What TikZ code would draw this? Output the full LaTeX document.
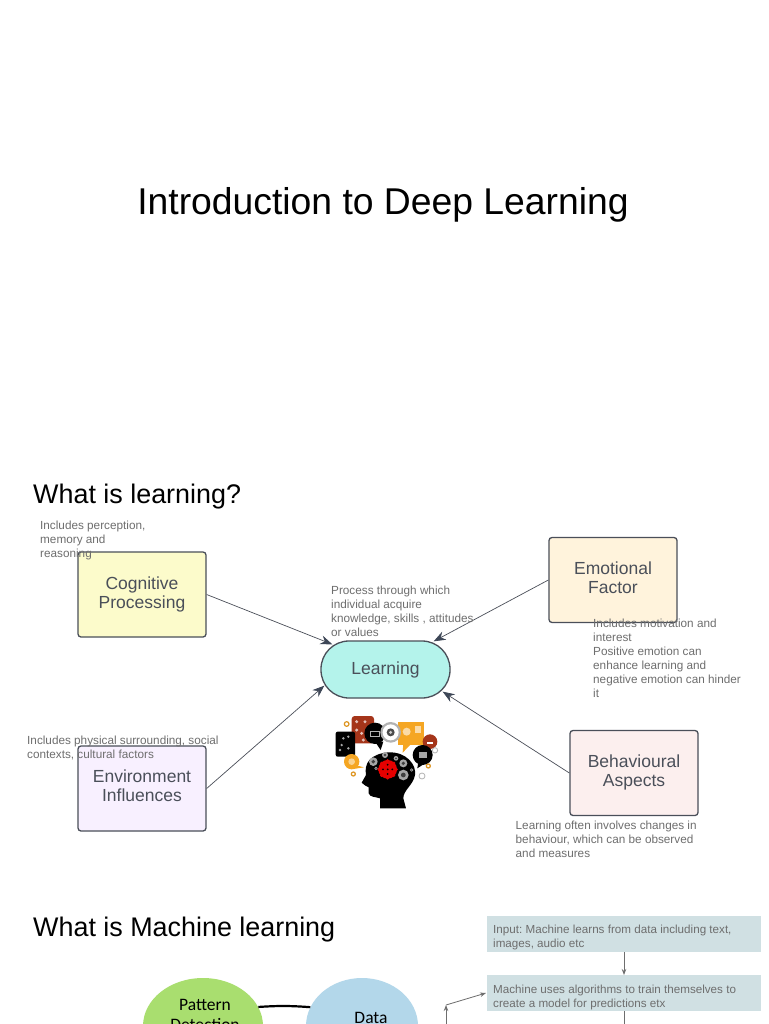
\documentclass[tikz,border=0pt]{standalone}
\usepackage{fontspec}
\setmainfont{Liberation Sans}
\newfontfamily\blobfont{Carlito}
\usetikzlibrary{arrows.meta,shapes.geometric}
\definecolor{ink}{HTML}{4A4F59}
\definecolor{notegray}{HTML}{6E6E6E}
\definecolor{tip}{HTML}{3D4656}
\definecolor{boxteal}{HTML}{D0E0E3}
\definecolor{ora}{HTML}{F5A623}
\definecolor{brn}{HTML}{A5351A}
\definecolor{cogfill}{HTML}{FCFBCB}
\definecolor{emofill}{HTML}{FFF3DC}
\definecolor{envfill}{HTML}{F8F0FF}
\definecolor{behfill}{HTML}{FCEFEE}
\definecolor{learnfill}{HTML}{B4F3EB}
\definecolor{patfill}{HTML}{A9DE6F}
\definecolor{datafill}{HTML}{B3D7EA}
\tikzset{
  flow/.style={rounded corners=3pt,draw=ink,line width=1.3pt,minimum width=128pt,minimum height=85pt,inner sep=0pt},
  flowtext/.style={align=center,inner sep=0pt,text=ink,font=\fontsize{17.5}{19}\selectfont},
  note/.style={anchor=north west,align=left,inner sep=0pt,text=notegray,font=\frenchspacing\fontsize{11.75}{14}\selectfont},
  heading/.style={anchor=west,inner sep=0pt,text=black,font=\fontsize{26.9}{32}\selectfont},
  link/.style={draw=ink,line width=0.7pt,-{Stealth[length=12pt,width=9pt,color=tip]}},
  tealbox/.style={anchor=north west,fill=boxteal,minimum width=274pt,minimum height=36pt,inner sep=0pt},
  tealtext/.style={anchor=north west,inner sep=0pt,align=left,text=notegray,font=\frenchspacing\fontsize{11.65}{14}\selectfont},
  thin arrow/.style={draw=notegray,line width=0.8pt,-{Stealth[length=6pt,width=4.5pt]}},
  blob/.style={inner sep=0pt,align=center,text=black,font=\blobfont\fontsize{17.5}{20}\selectfont}
}
\begin{document}
\begin{tikzpicture}[x=1pt,y=-1pt]
\useasboundingbox (0,0) rectangle (768,1024);
\clip (0,0) rectangle (768,1024);
\fill[white] (0,0) rectangle (768,1024);
\node[anchor=center,inner sep=0pt,font=\fontsize{37.3}{42}\selectfont] (title) at (383,205) {Introduction to Deep Learning};
\node[heading] (h1) at (33,496.5) {What is learning?};
\node[heading] (h2) at (33,929.5) {What is Machine learning};

% Learning diagram
\node[flow,fill=cogfill,label={[flowtext]center:Cognitive\\Processing}] (cog) at (142,594.5) {};
\node[flow,fill=emofill,label={[flowtext,yshift=2pt]center:Emotional\\Factor}] (emo) at (613,580) {};
\node[flow,fill=envfill,label={[flowtext,yshift=3pt]center:Environment\\Influences}] (env) at (142,788.5) {};
\node[flow,fill=behfill,label={[flowtext,yshift=1pt]center:Behavioural\\Aspects}] (beh) at (634,773) {};
\node[flow,fill=learnfill,rounded corners=28pt,minimum height=57pt,minimum width=129pt,label={[flowtext]center:Learning}] (learn) at (385.5,669.5) {};

\draw[link] (cog.east) -- ([xshift=12pt,yshift=-4pt]learn.north west);
\draw[link] (emo.west) -- ([xshift=-17pt,yshift=-1pt]learn.north east);
\draw[link] (beh.west) -- ([xshift=-8pt,yshift=7pt]learn.south east);
\draw[link] (env.east) -- ([xshift=4pt,yshift=13pt]learn.south west);

\node[note] (n1) at (40,521) {Includes perception,\\memory and\\reasoning};
\node[note] (n2) at (331,586) {Process through which\\individual acquire\\knowledge, skills , attitudes\\or values};
\node[note] (n3) at (593,619) {Includes motivation and\\interest\\Positive emotion can\\enhance learning and\\negative emotion can hinder\\it};
\node[note] (n4) at (27,736) {Includes physical surrounding, social\\contexts, cultural factors};
\node[note] (n5) at (515.5,821) {Learning often involves changes in\\behaviour, which can be observed\\and measures};

% Head illustration
\begin{scope}[shift={(320,700)},x=0.3333pt,y=-0.3333pt]
  \fill[ora] (235,65) rectangle (312,135);
  \fill[ora] (250,130) -- (275,130) -- (248,158) -- cycle;
  \fill[brn,rounded corners=3pt] (95,48) rectangle (162,130);
  \fill[black,rounded corners=2pt] (47,95) rectangle (105,170);
  \fill[black] (165,100) circle [radius=32];
  \fill[black] (165,125) -- (190,125) -- (182,150) -- cycle;
  \fill[gray!60] (212,97) circle [radius=31];
  \fill[white] (212,97) circle [radius=24];
  \fill[black!70] (212,97) circle [radius=12];
  \fill[gray!40] (212,97) circle [radius=5];
  \fill[brn] (330,125) circle [radius=22];
  \fill[white] (320,125) rectangle (340,133);
  \fill[black] (308,165) circle [radius=30];
  \fill[black] (295,185) -- (315,190) -- (292,205) -- cycle;
  \fill[gray!70] (298,157) rectangle (320,174);
  \fill[ora] (95,185) circle [radius=23];
  \fill[ora] (105,195) -- (132,202) -- (100,207) -- cycle;
  \fill[ora!50] (95,185) circle [radius=10];
  \draw[ora!90!black,line width=1.2pt] (80,72) circle [radius=7];
  \draw[ora!90!black,line width=1.2pt] (100,222) circle [radius=6];
  \draw[ora!90!black,line width=1.2pt] (325,198) circle [radius=6];
  \draw[gray!60,line width=0.8pt] (345,151) circle [radius=8];
  \draw[gray!60,line width=0.8pt] (306,228) circle [radius=9];
  \foreach \p/\q in {110/65,135/65,125/100,110/90,130/120}{\fill[brn!30] (\p,\q) circle [radius=5];}
  \foreach \p/\q in {70/115,85/145,60/150,85/110,65/135}{\fill[gray!70] (\p,\q) circle [radius=4];}
  \fill[gray!60] (150,92) rectangle (180,112);
  \fill[black] (154,96) rectangle (176,108);
  \fill[ora!40] (260,95) circle [radius=12];
  \fill[ora!40] (285,78) rectangle (302,100);
  % head
  \fill[black] (180,325) -- (180,295) .. controls (165,290) and (150,292) .. (146,280)
     -- (146,262) -- (136,257) -- (125,248) -- (138,225)
     .. controls (132,190) and (150,162) .. (205,157)
     .. controls (260,155) and (290,195) .. (285,225)
     .. controls (280,255) and (250,270) .. (250,295) -- (258,325) -- cycle;
  \foreach \p/\q/\r in {160/185/13,195/165/9,250/190/12,228/175/7,168/205/5,250/225/16,275/210/5}{
    \fill[gray!70] (\p,\q) circle [radius=\r];
    \fill[black!75] (\p,\q) circle [radius=\r*0.45];
  }
  \fill[red!90!black] (203,208) circle [radius=28];
  \foreach \a in {0,45,...,315}{\fill[red!90!black] (203,208) ++(\a:26) circle [radius=5];}
  \foreach \a in {0,90,180,270}{\fill[black] (203,208) ++(\a:14) circle [radius=3];}
  \fill[black] (203,208) circle [radius=3];
\end{scope}

% Machine learning section
\node[tealbox] (input) at (487,916) {};
\node[tealbox] (algo) at (487,975) {};
\node[tealtext] (inputtext) at (493,925) {Input: Machine learns from data including text,\\images, audio etc};
\node[tealtext] (algotext) at (493,984.5) {Machine uses algorithms to train themselves to\\create a model for predictions etx};
\coordinate (algoout) at (624,1030);
\coordinate (turn) at (446,1005);
\coordinate (turnin) at (446,1030);
\coordinate (inS) at (624,952);
\coordinate (algoN) at (624,975);
\coordinate (algoS) at (624,1011);
\coordinate (algoW) at (486,993);
\draw[thin arrow] (inS) -- (algoN);
\draw[draw=notegray,line width=0.8pt] (algoS) -- (algoout);
\draw[thin arrow] (turnin) -- (turn);
\draw[thin arrow] (turn) -- (algoW);

\node[fill=patfill,minimum width=120pt,minimum height=96pt,inner sep=0pt,shape=ellipse] (pat) at (203,1026) {};
\node[fill=datafill,minimum width=112pt,minimum height=96pt,inner sep=0pt,shape=ellipse] (data) at (362,1026) {};
\node[blob] (patt) at (205,1015) {Pattern\\Detection};
\node[blob] (datat) at (371,1017.5) {Data};
\draw[black,line width=2.2pt] (pat.19) to[bend left=4] (data.160);
\end{tikzpicture}
\end{document}
